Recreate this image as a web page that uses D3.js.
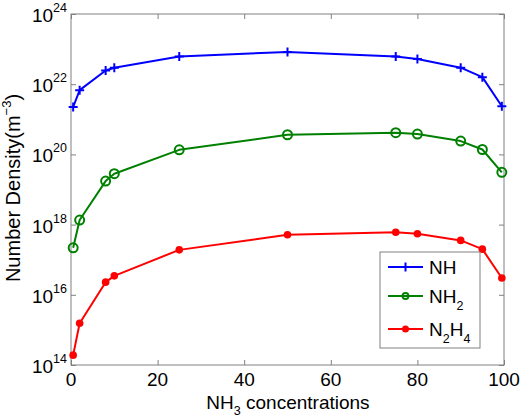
<!DOCTYPE html>
<html>
<head>
<meta charset="utf-8">
<script src="https://cdn.jsdelivr.net/npm/d3@7"></script>
<style>
  html, body { margin: 0; padding: 0; background: #fff; }
  svg { display: block; font-family: "Liberation Sans", Arial, Helvetica, sans-serif; }
</style>
</head>
<body>
<svg id="chart" width="520" height="418"></svg>
<script>
// ---- data ----
const concentrations = [0.5, 2, 8, 10, 25, 50, 75, 80, 90, 95, 99.5];
const nhLog   = [21.35, 21.83, 22.39, 22.47, 22.79, 22.92, 22.79, 22.72, 22.47, 22.20, 21.37];
const nh2Log  = [17.34, 18.13, 19.24, 19.45, 20.13, 20.56, 20.62, 20.58, 20.38, 20.14, 19.49];
const n2h4Log = [14.28, 15.19, 16.36, 16.54, 17.28, 17.71, 17.78, 17.74, 17.55, 17.30, 16.48];
const xTicks = [0, 20, 40, 60, 80, 100];
const yTickExps = [14, 16, 18, 20, 22, 24];
const seriesNames = ["NH", "NH2", "N2H4"];

const series = [
  { name: "NH",   vals: nhLog,   color: "#0000ff", marker: "plus" },
  { name: "NH2",  vals: nh2Log,  color: "#008000", marker: "circle" },
  { name: "N2H4", vals: n2h4Log, color: "#ff0000", marker: "dot" }
];

const svg = d3.select("#chart");
const L = 71, R = 504, T = 14, B = 365;
const x = d3.scaleLinear().domain([0, 100]).range([L, R]);
const y = d3.scaleLog().domain([1e14, 1e24]).range([B, T]);
const axisColor = "#808080";
const tickLen = 5;

// box
svg.append("rect").attr("x", L).attr("y", T).attr("width", R - L).attr("height", B - T)
  .attr("fill", "none").attr("stroke", axisColor).attr("stroke-width", 1);

// axes via d3 (inner ticks)
const yVals = yTickExps.map(e => Math.pow(10, e));
const gxB = svg.append("g").attr("transform", `translate(0,${B})`)
  .call(d3.axisBottom(x).tickValues(xTicks).tickSizeInner(-tickLen).tickSizeOuter(0).tickFormat(""));
const gxT = svg.append("g").attr("transform", `translate(0,${T})`)
  .call(d3.axisTop(x).tickValues(xTicks).tickSizeInner(-tickLen).tickSizeOuter(0).tickFormat(""));
const gyL = svg.append("g").attr("transform", `translate(${L},0)`)
  .call(d3.axisLeft(y).tickValues(yVals).tickSizeInner(-tickLen).tickSizeOuter(0).tickFormat(""));
const gyR = svg.append("g").attr("transform", `translate(${R},0)`)
  .call(d3.axisRight(y).tickValues(yVals).tickSizeInner(-tickLen).tickSizeOuter(0).tickFormat(""));
[gxB, gxT, gyL, gyR].forEach(g => {
  g.select(".domain").remove();
  g.selectAll(".tick line").attr("stroke", axisColor);
});

// x tick labels
svg.append("g").selectAll("text").data(xTicks).join("text")
  .attr("x", d => x(d)).attr("y", B + 21)
  .attr("text-anchor", "middle").attr("font-size", 19).attr("fill", "#000")
  .text(d => d);

// y tick labels 10^n
const yl = svg.append("g").selectAll("text").data(yTickExps).join("text")
  .attr("x", L - 4).attr("y", d => y(Math.pow(10, d)) + 8)
  .attr("text-anchor", "end").attr("font-size", 19).attr("fill", "#000");
yl.append("tspan").text("10");
yl.append("tspan").attr("font-size", 12.5).attr("dy", -10).text(d => d);

// axis titles
const xt = svg.append("text").attr("x", 288).attr("y", 409)
  .attr("text-anchor", "middle").attr("font-size", 19).attr("fill", "#000");
xt.append("tspan").text("NH");
xt.append("tspan").attr("font-size", 12.5).attr("dy", 6).text("3");
xt.append("tspan").attr("dy", -6).text(" concentrations");

const yt = svg.append("text").attr("transform", "translate(20,188) rotate(-90)")
  .attr("text-anchor", "middle").attr("font-size", 20).attr("fill", "#000");
yt.append("tspan").text("Number Density(m");
yt.append("tspan").attr("font-size", 13).attr("dy", -9).text("\u22123");
yt.append("tspan").attr("dy", 9).text(")");

// lines + markers
const line = d3.line().x(d => x(d[0])).y(d => y(Math.pow(10, d[1])));
function drawMarker(g, type, color, cx, cy) {
  if (type === "plus") {
    g.append("path").attr("d", `M${cx - 4.5},${cy}H${cx + 4.5}M${cx},${cy - 4.5}V${cy + 4.5}`)
      .attr("stroke", color).attr("stroke-width", 2).attr("fill", "none");
  } else if (type === "circle") {
    g.append("circle").attr("cx", cx).attr("cy", cy).attr("r", 4.5)
      .attr("stroke", color).attr("stroke-width", 2).attr("fill", "none");
  } else {
    g.append("circle").attr("cx", cx).attr("cy", cy).attr("r", 3.8).attr("fill", color);
  }
}
series.forEach(s => {
  const pts = concentrations.map((c, i) => [c, s.vals[i]]);
  const g = svg.append("g");
  g.append("path").attr("d", line(pts)).attr("fill", "none")
    .attr("stroke", s.color).attr("stroke-width", 2).attr("stroke-linejoin", "round");
  pts.forEach(p => drawMarker(g, s.marker, s.color, x(p[0]), y(Math.pow(10, p[1]))));
});

// legend
const lg = svg.append("g");
lg.append("rect").attr("x", 380).attr("y", 252).attr("width", 100).attr("height", 96)
  .attr("fill", "#fff").attr("stroke", axisColor).attr("stroke-width", 1);
const legY = [267, 296, 329];
series.forEach((s, i) => {
  const cy = legY[i];
  lg.append("line").attr("x1", 388).attr("x2", 423).attr("y1", cy).attr("y2", cy)
    .attr("stroke", s.color).attr("stroke-width", 2);
  if (s.marker === "plus") drawMarker(lg, "plus", s.color, 405.5, cy);
  else if (s.marker === "circle") {
    lg.append("circle").attr("cx", 405.5).attr("cy", cy).attr("r", 3)
      .attr("stroke", s.color).attr("stroke-width", 1.8).attr("fill", "none");
  } else lg.append("circle").attr("cx", 405.5).attr("cy", cy).attr("r", 3.5).attr("fill", s.color);
  const t = lg.append("text").attr("x", 429).attr("y", cy + 7).attr("font-size", 19).attr("fill", "#000");
  if (s.name === "NH") t.text("NH");
  else if (s.name === "NH2") {
    t.append("tspan").text("NH");
    t.append("tspan").attr("font-size", 12.5).attr("dy", 7).text("2");
  } else {
    t.append("tspan").text("N");
    t.append("tspan").attr("font-size", 12.5).attr("dy", 7).text("2");
    t.append("tspan").attr("dy", -7).text("H");
    t.append("tspan").attr("font-size", 12.5).attr("dy", 7).text("4");
  }
});
</script>
</body>
</html>
